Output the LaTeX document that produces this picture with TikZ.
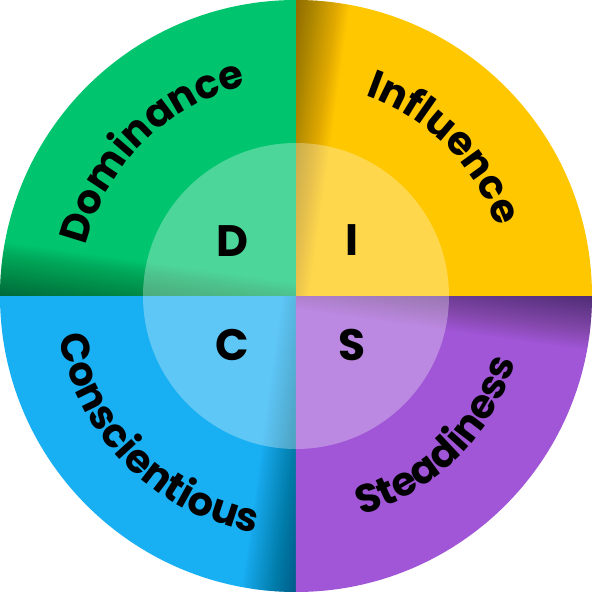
\documentclass[tikz,border=0pt]{standalone}
\usepackage{fontspec}
\newfontfamily\popfont{Poppins}
\usetikzlibrary{decorations.text}
\definecolor{cgreen}{RGB}{0,197,110}
\definecolor{cyellow}{RGB}{255,199,0}
\definecolor{cblue}{RGB}{25,175,243}
\definecolor{cpurple}{RGB}{160,86,214}
\tikzset{
  bigletter/.style={inner sep=0pt, text=black, font=\popfont\bfseries\fontsize{44}{44}\selectfont},
  arctext/.style={decorate, decoration={text along path, text={|\popfont\bfseries\fontsize{40}{40}\selectfont|#1}, text align=center}},
  innerdisc/.style={fill=white, fill opacity=0.3},
  shadowstrip/.style={fill=black, fill opacity=0.0125},
}
\begin{document}
\begin{tikzpicture}[x=1pt,y=1pt]
\useasboundingbox (-296,-296) rectangle (296,296);
% quadrants with their shadows
\foreach \a/\c in {0/cyellow, 90/cgreen, 180/cblue, 270/cpurple} {
  \fill[\c, rotate=\a] (0,0) -- (0:296) arc[start angle=0, end angle=90, radius=296] -- cycle;
  \begin{scope}
    \clip[rotate=\a] (0,0) -- (0:296) arc[start angle=0, end angle=90, radius=296] -- cycle;
    \foreach \k in {1,...,48} {
      \fill[shadowstrip, rotate=\a, rotate around={-8:(0,296)}]
        (-10,-90) rectangle ({-10+1.3333*\k},300);
    }
  \end{scope}
}
% translucent inner disc
\fill[innerdisc] (0,0) circle[radius=153];
% letters
\node[bigletter] (d) at (-64,55) {D};
\node[bigletter] (i) at (56,56) {I};
\node[bigletter] (c) at (-64,-49) {C};
\node[bigletter] (s) at (56,-49) {S};
% curved words
\path[arctext=Dominance] (185:216) arc[start angle=185, end angle=85, radius=216];
\path[arctext=Influence] (95:212) arc[start angle=95, end angle=-5, radius=212];
\path[arctext=Conscientious] (170:240) arc[start angle=170, end angle=280, radius=240];
\path[arctext=Steadiness] (265:229) arc[start angle=265, end angle=365, radius=229];
\end{tikzpicture}
\end{document}
